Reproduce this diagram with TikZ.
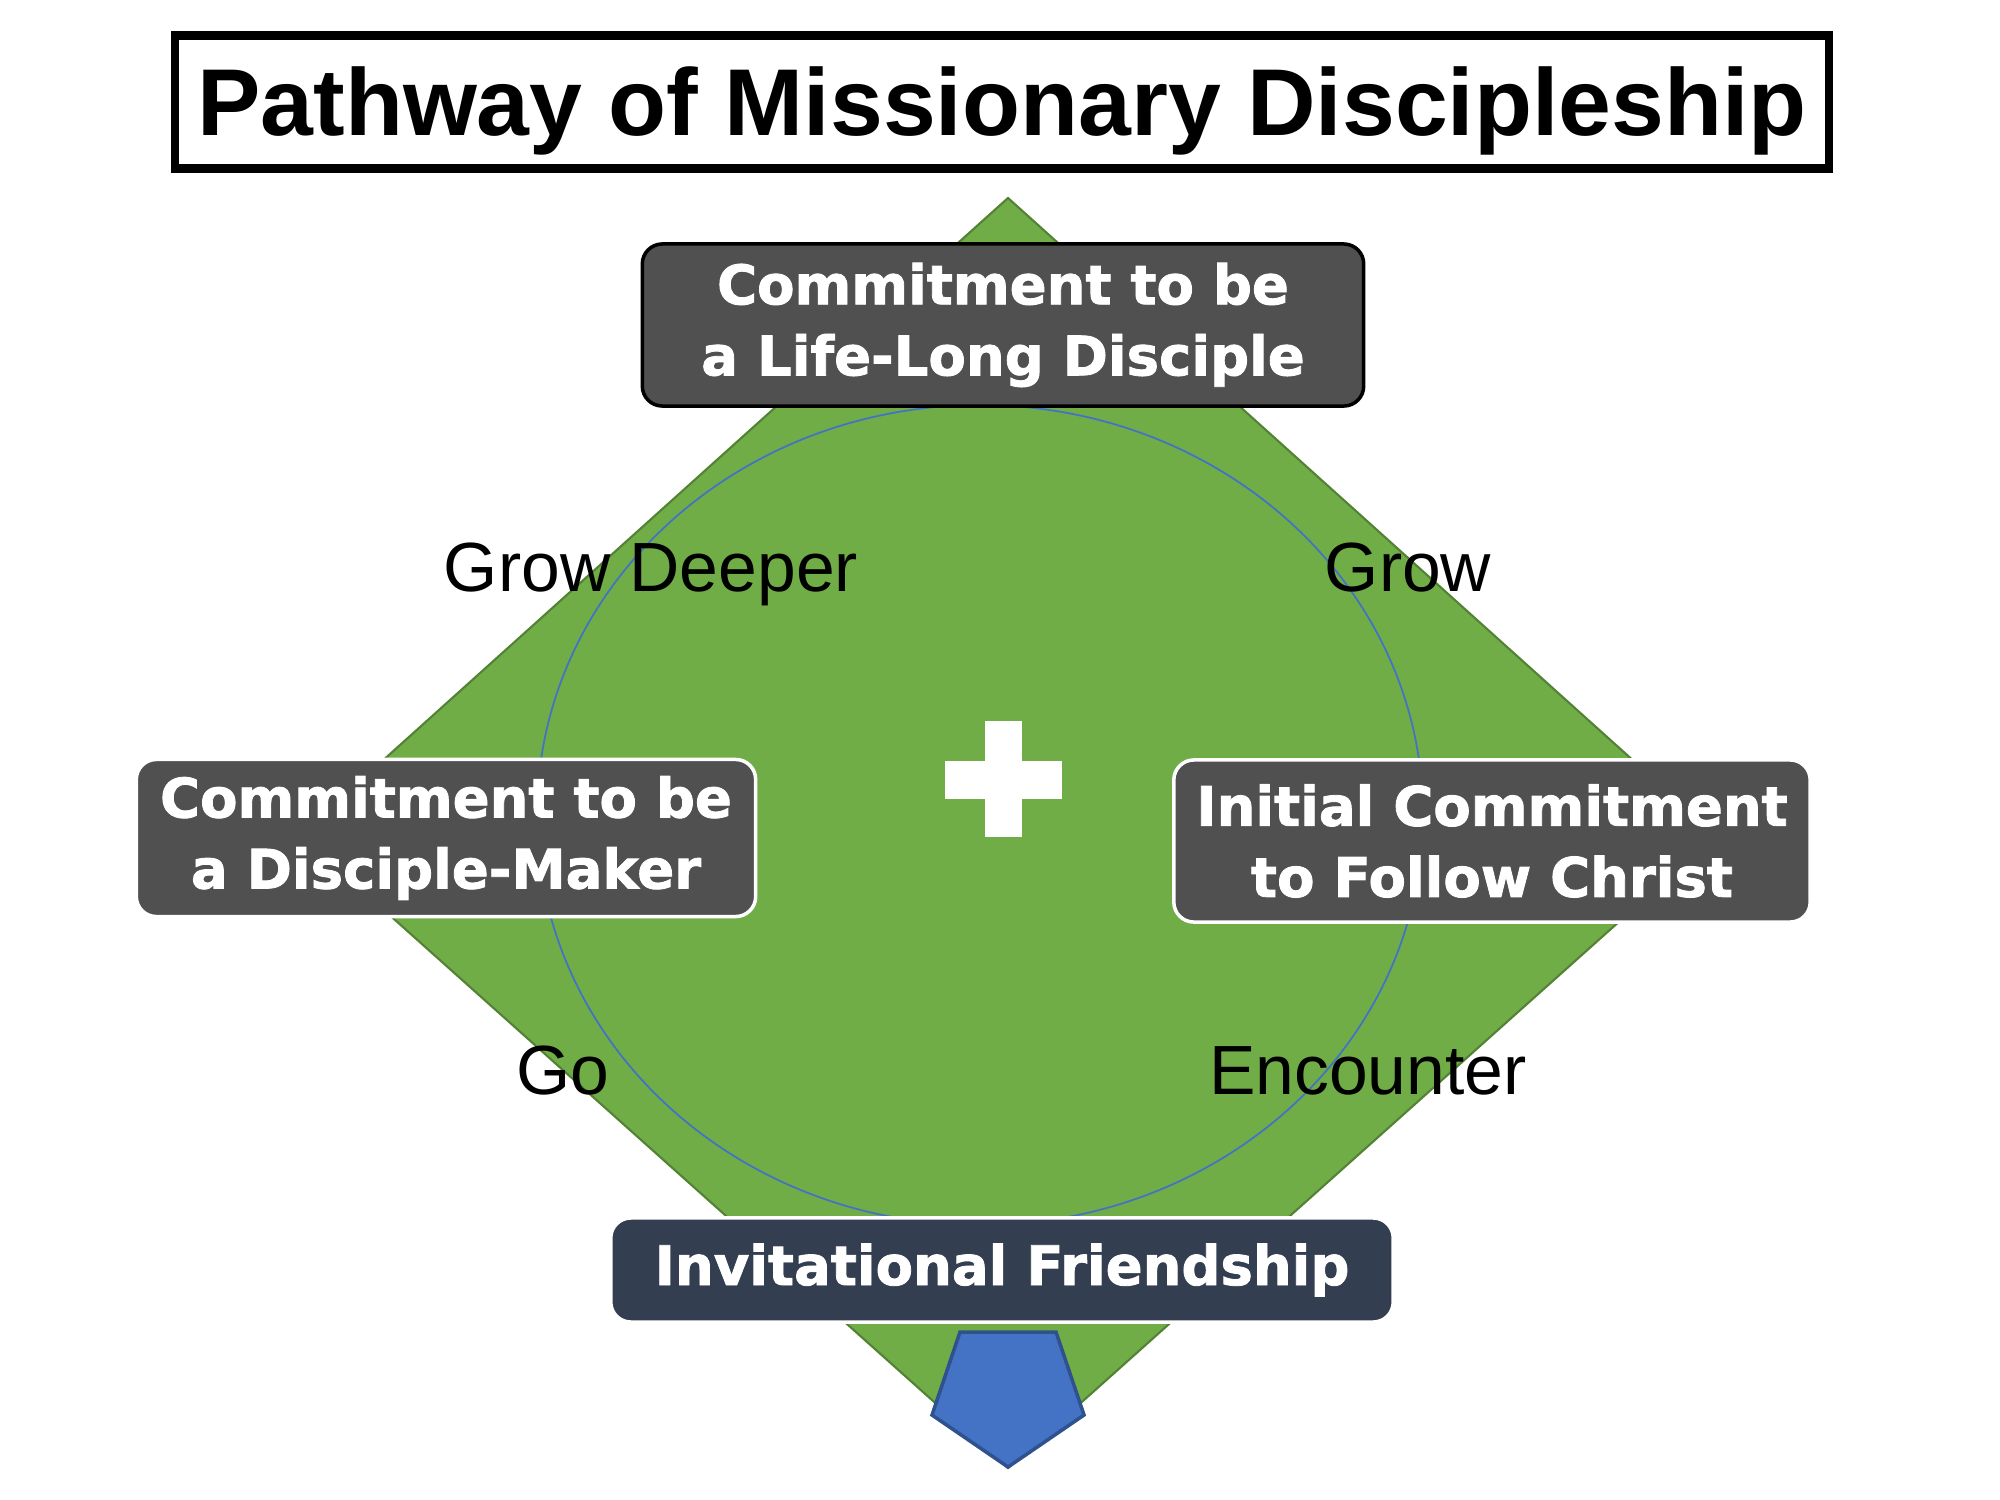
\documentclass[tikz,border=0pt]{standalone}
\usepackage{fontspec}
\setmainfont{Liberation Sans}
\newfontfamily\heavyfont{DejaVu Sans}[BoldFeatures={FakeBold=1.5}]
\definecolor{field}{RGB}{112,173,71}
\definecolor{fieldedge}{RGB}{84,130,53}
\definecolor{ring}{RGB}{68,114,196}
\definecolor{plate}{RGB}{68,114,196}
\definecolor{plateedge}{RGB}{47,82,143}
\definecolor{stage}{RGB}{80,80,80}
\definecolor{friendship}{RGB}{51,63,80}
\tikzstyle{stage box}=[rectangle, rounded corners=0.2cm, fill=stage, text=white, align=center, inner sep=0pt, line width=1pt, font=\heavyfont\bfseries\fontsize{15.5}{20.2}\selectfont]
\tikzstyle{path label}=[anchor=base, inner sep=0pt, font=\fontsize{19.8}{24}\selectfont]

\begin{document}
\begin{tikzpicture}[x=0.01cm, y=-0.01cm]
    \useasboundingbox (0,0) rectangle (2000,1500);

    \node[draw, line width=2.5pt, minimum width=16.53cm, inner ysep=0pt,
        text height=1.0cm, text depth=0.33cm,
        font=\bfseries\fontsize{27}{30}\selectfont] (title) at (1002,102)
        {Pathway of Missionary Discipleship};

    \draw[fill=field, draw=fieldedge, line width=0.6pt]
        (1008,198) coordinate (second) -- (1716,835) coordinate (first)
        -- (1008,1468) coordinate (home) -- (300,835) coordinate (third) -- cycle;
    \draw[ring, line width=0.5pt] (980,815) ellipse [x radius=443, y radius=410];
    \fill[white] (985,721) rectangle (1022,837);
    \fill[white] (945,761) rectangle (1062,799);

    \node[path label] (deeper) at (651,591) {Grow Deeper};
    \node[path label] (grow) at (1408,591) {Grow};
    \node[path label] (go) at (563,1094) {Go};
    \node[path label] (encounter) at (1368,1094) {Encounter};

    \draw[fill=plate, draw=plateedge, line width=1pt, line join=miter]
        (960,1332) -- (1056,1332) -- (1084,1415) -- (1008,1467) -- (932,1415) -- cycle;

    \node[stage box, draw=black, minimum width=7.21cm, minimum height=1.62cm]
        (lifelong) at (1003,325) {Commitment to be\\a Life-Long Disciple};
    \node[stage box, draw=white, minimum width=6.19cm, minimum height=1.57cm]
        (maker) at (446,838) {Commitment to be\\a Disciple-Maker};
    \node[stage box, draw=white, minimum width=6.36cm, minimum height=1.62cm]
        (initial) at (1492,841) {Initial Commitment\\to Follow Christ};
    \node[stage box, fill=friendship, draw=white, minimum width=7.82cm, minimum height=1.04cm]
        (invite) at (1002,1270) {Invitational Friendship};
\end{tikzpicture}
\end{document}
